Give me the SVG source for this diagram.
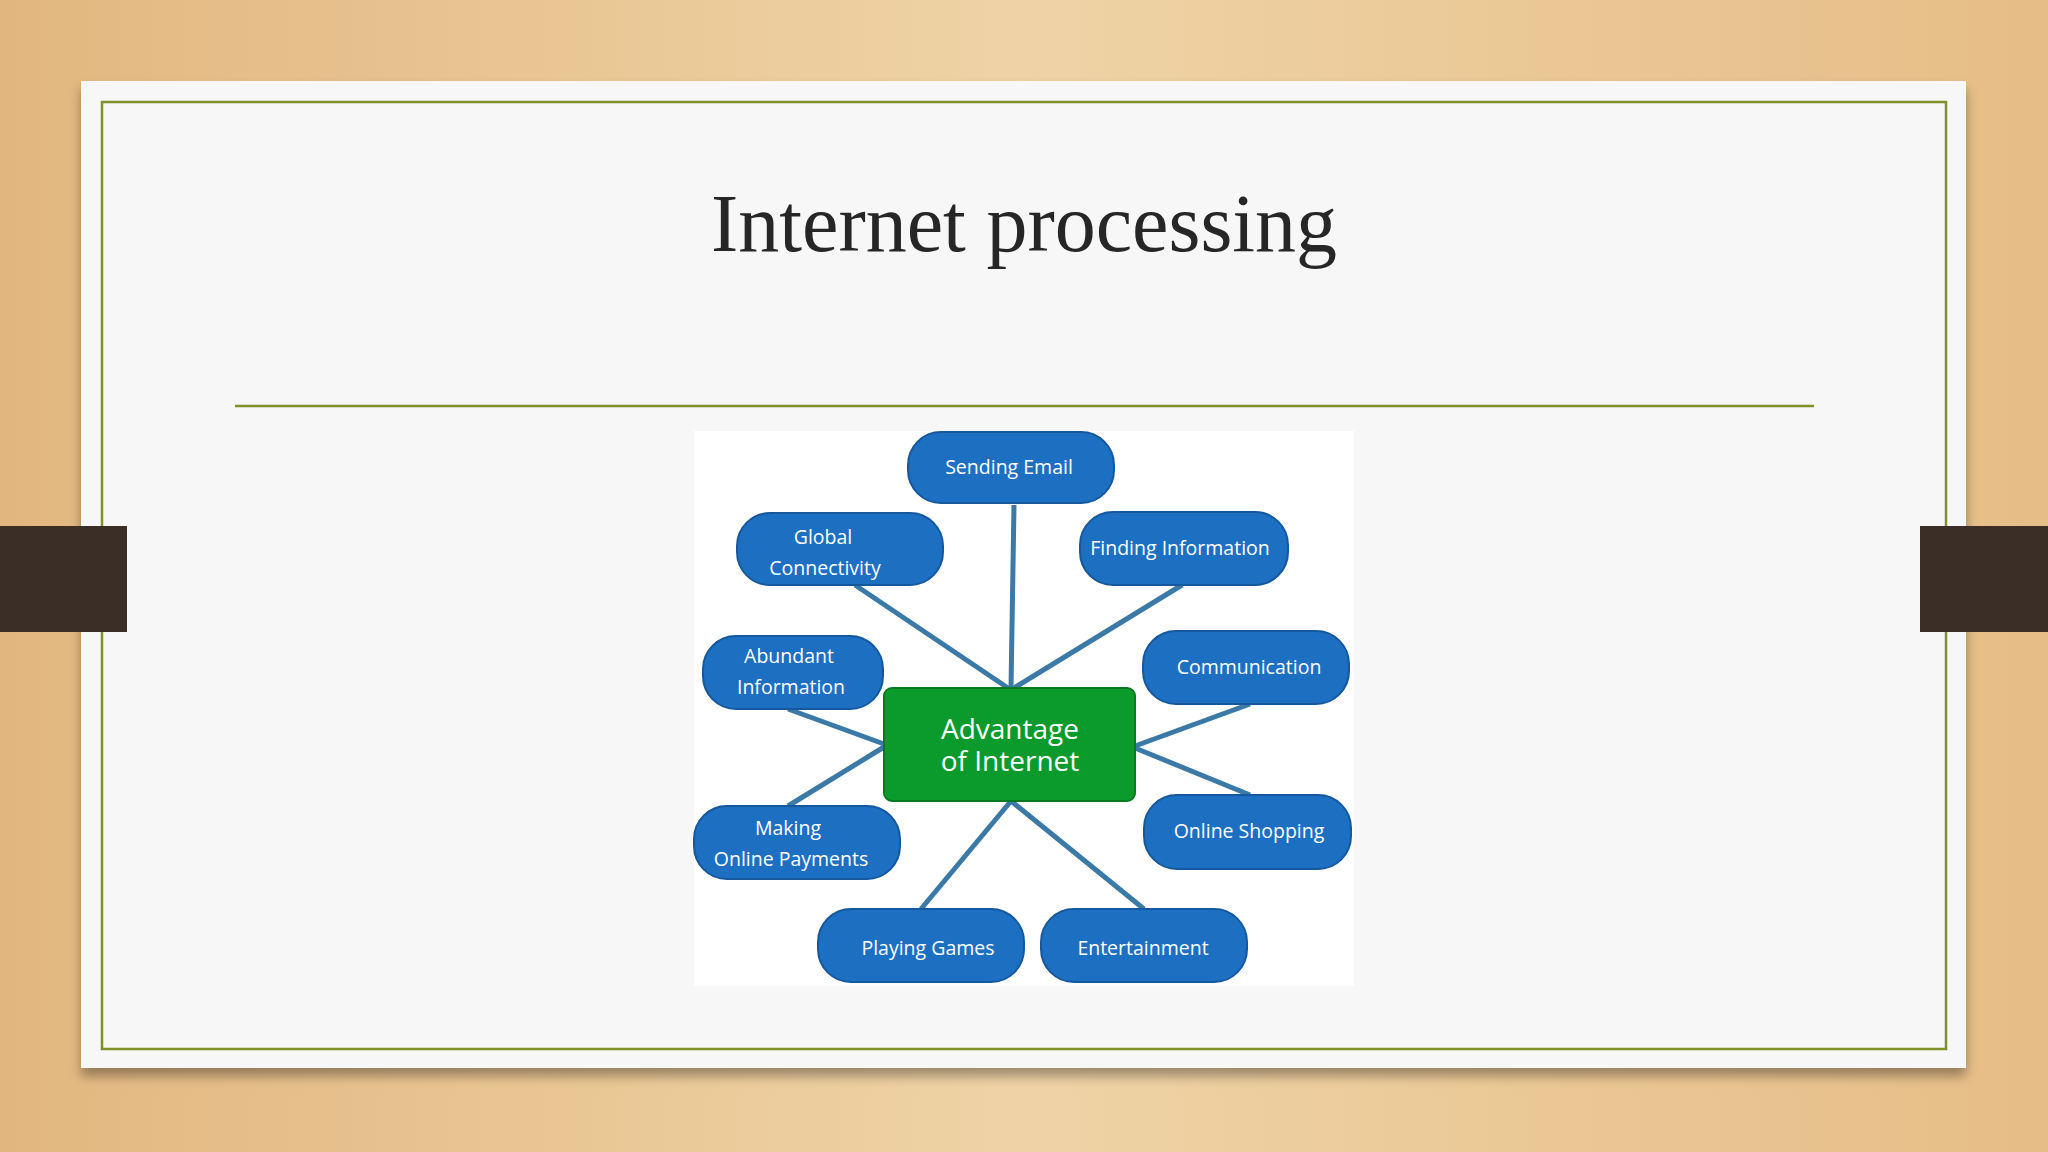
<svg xmlns="http://www.w3.org/2000/svg" width="2048" height="1152" viewBox="0 0 2048 1152">
<defs>
<linearGradient id="wood" x1="0" y1="0" x2="1" y2="0">
<stop offset="0" stop-color="#e2b77f"/><stop offset="0.5" stop-color="#efd3a6"/><stop offset="1" stop-color="#e6bd86"/>
</linearGradient>
<filter id="sh" x="-5%" y="-5%" width="110%" height="110%"><feDropShadow dx="0" dy="8" stdDeviation="6" flood-opacity="0.35"/></filter>
<style>
.n rect{fill:#1d6fc2;stroke:#15589e;stroke-width:2}
.n text{fill:#fff;font-family:"Open Sans","Liberation Sans",sans-serif;font-size:19.5px;text-anchor:middle}
#connectors line{stroke:#3b79a6;stroke-width:5}
</style>
</defs>
<rect width="2048" height="1152" fill="url(#wood)"/>
<rect x="81" y="81" width="1885" height="987" fill="#f7f7f7" filter="url(#sh)"/>
<rect x="102" y="102" width="1844" height="947" fill="none" stroke="#7f9128" stroke-width="2.5"/>
<rect x="0" y="526" width="127" height="106" fill="#3a2e27"/>
<rect x="1920" y="526" width="128" height="106" fill="#3a2e27"/>
<text x="1024" y="251" font-family="Liberation Serif,serif" font-size="82" fill="#262626" text-anchor="middle">Internet processing</text>
<line x1="235" y1="406" x2="1814" y2="406" stroke="#7f9128" stroke-width="2.5"/>
<rect x="694" y="431" width="660" height="555" fill="#ffffff"/>
<g id="connectors">
<line x1="1014" y1="505" x2="1011" y2="688"/>
<line x1="855" y1="585" x2="1008" y2="688"/>
<line x1="1182" y1="585" x2="1014" y2="688"/>
<line x1="788" y1="709" x2="884" y2="744"/>
<line x1="1250" y1="704" x2="1135" y2="746"/>
<line x1="788" y1="806" x2="884" y2="747"/>
<line x1="1250" y1="795" x2="1135" y2="748"/>
<line x1="921" y1="909" x2="1011" y2="801"/>
<line x1="1144" y1="909" x2="1011" y2="801"/>
</g>
<g id="center"><rect x="884" y="688" width="251" height="113" rx="8" fill="#0b9a2c" stroke="#077a20" stroke-width="2"/>
<text font-family="Open Sans,Liberation Sans,sans-serif" font-size="28" fill="#fff" text-anchor="middle"><tspan x="1010" y="739">Advantage</tspan><tspan x="1010" y="771">of Internet</tspan></text></g>
<g id="email" class="n"><rect x="908" y="432" width="206" height="71" rx="33"/><text x="1009" y="474">Sending Email</text></g>
<g id="global" class="n"><rect x="737" y="513" width="206" height="72" rx="33"/><text><tspan x="823" y="544">Global</tspan><tspan x="825" y="575">Connectivity</tspan></text></g>
<g id="finding" class="n"><rect x="1080" y="512" width="208" height="73" rx="33"/><text x="1180" y="555">Finding Information</text></g>
<g id="abundant" class="n"><rect x="703" y="636" width="180" height="73" rx="33"/><text><tspan x="789" y="663">Abundant</tspan><tspan x="791" y="694">Information</tspan></text></g>
<g id="comm" class="n"><rect x="1143" y="631" width="206" height="73" rx="33"/><text x="1249" y="674">Communication</text></g>
<g id="pay" class="n"><rect x="694" y="806" width="206" height="73" rx="33"/><text><tspan x="788" y="835">Making</tspan><tspan x="791" y="866">Online Payments</tspan></text></g>
<g id="shop" class="n"><rect x="1144" y="795" width="207" height="74" rx="33"/><text x="1249" y="838">Online Shopping</text></g>
<g id="games" class="n"><rect x="818" y="909" width="206" height="73" rx="33"/><text x="928" y="955">Playing Games</text></g>
<g id="ent" class="n"><rect x="1041" y="909" width="206" height="73" rx="33"/><text x="1143" y="955">Entertainment</text></g>
</svg>
